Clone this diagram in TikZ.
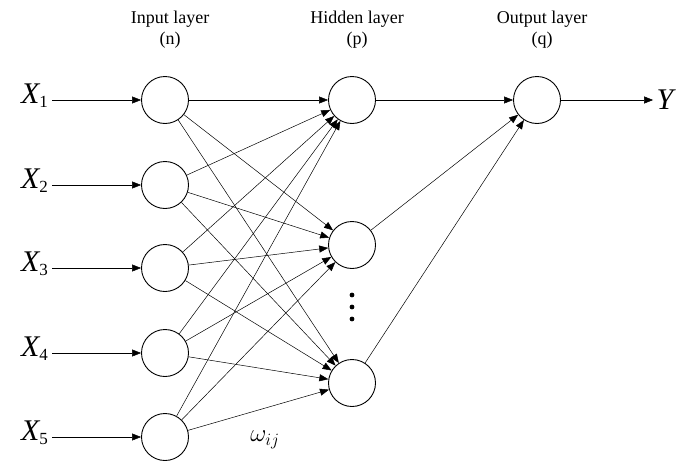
\documentclass[tikz,border=0pt]{standalone}
\usepackage{fontspec}
\setmainfont{Liberation Serif}
\usetikzlibrary{arrows.meta}
\begin{document}
\begin{tikzpicture}[x=1pt,y=-1pt,
  neuron/.style={circle,draw,line width=0.9pt,minimum size=47pt,inner sep=0pt},
  conn/.style={line width=0.5pt,-{Triangle[length=9pt,width=7pt]}},
  lab/.style={font=\fontsize{18}{21}\selectfont,align=center},
  xl/.style={font=\fontsize{30}{32}\selectfont\itshape}]
\useasboundingbox (0,0) rectangle (685,466);
\foreach \i/\y in {1/100,2/185,3/268,4/353,5/437}{
  \node[neuron] (i\i) at (165,\y) {};
  \node[xl,anchor=east] (x\i) at (52,\y-4) {X\textsubscript{\fontsize{17}{19}\selectfont\upshape\i}};
  \draw[conn] (x\i.east |- i\i.west) -- (i\i.west);
}
\node[neuron] (h1) at (352,100) {};
\node[neuron] (h2) at (352,245) {};
\node[neuron] (h3) at (352,383) {};
\node[neuron] (o) at (537,100) {};
\foreach \i in {1,...,5}{\foreach \h in {1,2,3}{\draw[conn] (i\i) -- (h\h);}}
\foreach \h in {1,2,3}{\draw[conn] (h\h) -- (o);}
\node[xl] (Y) at (665,100) {Y};
\draw[conn] (o.east) -- (Y.west);
\foreach \y/\n in {295/d1,307/d2,319/d3}{\fill (352,\y) circle (2.4pt) coordinate (\n);}
\node[lab] (t1) at (170,30) {Input layer\\(n)};
\node[lab] (t2) at (357,30) {Hidden layer\\(p)};
\node[lab] (t3) at (542,30) {Output layer\\(q)};
\node[font=\fontsize{26}{28}\selectfont\itshape] (w) at (265,440) {$\omega_{ij}$};
\end{tikzpicture}
\end{document}
